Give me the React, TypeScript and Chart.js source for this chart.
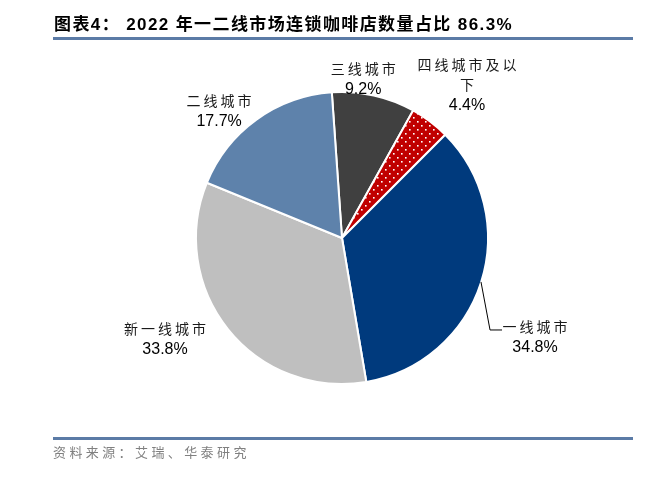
import React, { useEffect, useRef } from "react";
import { Chart, registerables } from "chart.js";

Chart.register(...registerables);

const categories = ["三线城市", "四线城市及以下", "一线城市", "新一线城市", "二线城市"];
const values = [9.2, 4.4, 34.8, 33.8, 17.7];
const nameLines = [["三线城市"], ["四线城市及以", "下"], ["一线城市"], ["新一线城市"], ["二线城市"]];
const colors = ["#404040", "pattern", "#003A7D", "#BFBFBF", "#5E82AB"];

// label block centres, relative to pie centre in units of radius (layout only)
const labelAnchors = [
  [0.145, -1.09],
  [0.856, -1.05],
  [1.322, 0.678],
  [-1.212, 0.692],
  [-0.842, -0.87],
];

function makePattern(): CanvasPattern | string {
  const c = document.createElement("canvas");
  c.width = 8;
  c.height = 8;
  const g = c.getContext("2d");
  if (!g) return "#C00000";
  g.fillStyle = "#C00000";
  g.fillRect(0, 0, 8, 8);
  g.fillStyle = "#ffffff";
  g.fillRect(1, 1, 1.6, 1.6);
  g.fillRect(5, 5, 1.6, 1.6);
  return g.createPattern(c, "repeat") || "#C00000";
}

const labelPlugin = {
  id: "sliceLabels",
  afterDraw(chart: any) {
    const ctx = chart.ctx;
    const meta = chart.getDatasetMeta(0);
    const arc0 = meta.data[0];
    if (!arc0) return;
    const { x: cx, y: cy, outerRadius: r } = arc0.getProps(["x", "y", "outerRadius"], true);
    ctx.save();
    // leader line for 一线城市
    ctx.strokeStyle = "#000";
    ctx.lineWidth = 1;
    ctx.beginPath();
    ctx.moveTo(cx + 0.952 * r, cy + 0.301 * r);
    ctx.lineTo(cx + 1.014 * r, cy + 0.63 * r);
    ctx.lineTo(cx + 1.096 * r, cy + 0.63 * r);
    ctx.stroke();

    ctx.textBaseline = "middle";
    const lh = 20.5;
    categories.forEach((_, i) => {
      const lines = nameLines[i];
      const total = lines.length + 1;
      const bx = cx + labelAnchors[i][0] * r;
      const by = cy + labelAnchors[i][1] * r;
      const top = by - ((total - 1) * lh) / 2;
      ctx.fillStyle = "#1a1a1a";
      ctx.font = '14px "Noto Sans CJK SC"';
      lines.forEach((ln, k) => {
        const chars = Array.from(ln);
        const sp = 3;
        const widths = chars.map((ch) => ctx.measureText(ch).width);
        const tw = widths.reduce((a, b) => a + b, 0) + sp * (chars.length - 1);
        let xx = bx - tw / 2;
        ctx.textAlign = "left";
        chars.forEach((ch, j) => {
          ctx.fillText(ch, xx, top + k * lh);
          xx += widths[j] + sp;
        });
      });
      ctx.textAlign = "center";
      ctx.fillStyle = "#000";
      ctx.font = '16px "Liberation Sans", Arial';
      ctx.fillText(values[i].toFixed(1) + "%", bx, top + lines.length * lh);
    });
    ctx.restore();
  },
};

export default function App() {
  const ref = useRef<HTMLCanvasElement>(null);
  useEffect(() => {
    if (!ref.current) return;
    const pat = makePattern();
    const chart = new Chart(ref.current, {
      type: "pie",
      data: {
        labels: categories,
        datasets: [
          {
            data: values,
            backgroundColor: colors.map((c) => (c === "pattern" ? pat : c)) as any,
            borderColor: "#ffffff",
            borderWidth: 2,
          },
        ],
      },
      options: {
        animation: false,
        responsive: false,
        rotation: -4,
        layout: { padding: { left: 195, right: 161, top: 91, bottom: 101 } },
        plugins: { legend: { display: false }, tooltip: { enabled: false } },
      },
      plugins: [labelPlugin],
    });
    return () => chart.destroy();
  }, []);

  return (
    <div style={{ position: "fixed", left: 0, top: 0, width: 650, height: 486, background: "#fff" }}>
      <canvas ref={ref} width={650} height={486} style={{ position: "absolute", left: 0, top: 0 }} />
      <div
        style={{
          position: "absolute",
          left: 54,
          top: 15,
          font: 'bold 17px "Liberation Sans", "Noto Sans CJK SC", sans-serif',
          lineHeight: "20px",
          letterSpacing: "1.4px",
          color: "#000",
          whiteSpace: "nowrap",
        }}
      >
        图表4： 2022 年一二线市场连锁咖啡店数量占比 86.3%
      </div>
      <div style={{ position: "absolute", left: 53, top: 37, width: 580, height: 2.5, background: "#5B7BA6" }} />
      <div style={{ position: "absolute", left: 53, top: 437, width: 580, height: 2.5, background: "#5B7BA6" }} />
      <div
        style={{
          position: "absolute",
          left: 53,
          top: 443,
          font: '13px "Noto Sans CJK SC", sans-serif',
          lineHeight: "18px",
          color: "#808080",
          letterSpacing: "3.4px",
          whiteSpace: "nowrap",
        }}
      >
        资料来源：艾瑞、华泰研究
      </div>
    </div>
  );
}
